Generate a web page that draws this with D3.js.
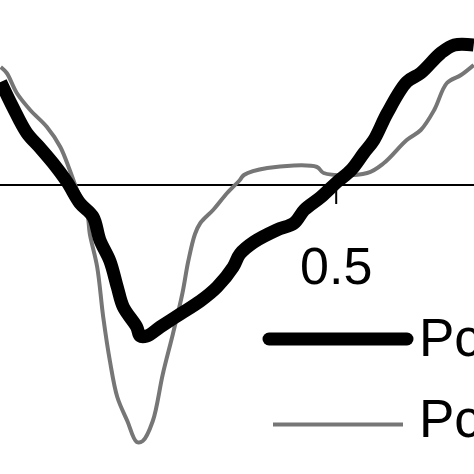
<!DOCTYPE html>
<html>
<head>
<meta charset="utf-8">
<script src="https://cdn.jsdelivr.net/npm/d3@7"></script>
<style>
html,body{margin:0;padding:0;background:#fff;overflow:hidden;}
</style>
</head>
<body>
<div id="chart"></div>
<script>
// thick black series
let blackX=[0.000,0.018,0.039,0.059,0.078,0.099,0.118,0.138,0.148,0.163,0.174,0.183,0.203,0.208,0.218,0.238,0.268,0.298,0.323,0.347,0.357,0.378,0.412,0.438,0.453,0.478,0.502,0.523,0.542,0.557,0.577,0.606,0.627,0.657,0.677,0.706];
let blackY=[1.03,0.78,0.52,0.37,0.22,0.03,-0.18,-0.32,-0.55,-0.76,-1.02,-1.22,-1.42,-1.51,-1.51,-1.42,-1.29,-1.16,-1.02,-0.82,-0.69,-0.57,-0.45,-0.38,-0.25,-0.12,0.03,0.15,0.32,0.45,0.72,1.03,1.12,1.32,1.40,1.40];
// thin gray series
let grayX=[0.000,0.009,0.024,0.044,0.069,0.089,0.103,0.114,0.129,0.133,0.144,0.153,0.163,0.174,0.189,0.203,0.212,0.227,0.242,0.257,0.271,0.280,0.290,0.298,0.317,0.338,0.357,0.363,0.398,0.472,0.482,0.547,0.572,0.606,0.627,0.647,0.666,0.687,0.706];
let grayY=[1.18,1.12,0.92,0.75,0.58,0.38,0.15,-0.05,-0.28,-0.49,-0.82,-1.32,-1.76,-2.12,-2.36,-2.57,-2.56,-2.36,-1.89,-1.49,-1.09,-0.76,-0.49,-0.38,-0.25,-0.08,0.05,0.10,0.17,0.18,0.12,0.12,0.22,0.45,0.55,0.75,1.02,1.10,1.20];
let xTicks=[0.5];
let tickLabels=["0.5"];
let legendNames=["Pc","Pc"];

let width=474, height=474;
let svg=d3.select("#chart").append("svg")
  .attr("width",width).attr("height",height);

let xscale=d3.scaleLinear().domain([0,0.7]).range([0.7,469.7]);
let yscale=d3.scaleLinear().domain([0,1]).range([185,85]);

// x axis through y=0
let xAxis=d3.axisBottom(xscale).tickValues(xTicks).tickSize(19).tickFormat(function(d,i){return tickLabels[i];});
let ax=svg.append("g").attr("transform","translate(0,"+yscale(0)+")").call(xAxis);
ax.select(".domain").remove();
ax.append("line").attr("x1",0).attr("x2",width).attr("y1",0).attr("y2",0)
  .attr("stroke","#000").attr("stroke-width",2);
ax.selectAll(".tick line").attr("stroke","#000").attr("stroke-width",2);
ax.selectAll(".tick text")
  .attr("font-family","Liberation Sans, Arial, sans-serif")
  .attr("font-size",52).attr("fill","#000")
  .attr("dy",0).attr("y",99);

let line=d3.line()
  .curve(d3.curveCatmullRom.alpha(0.5))
  .x(function(d){return xscale(d[0]);}).y(function(d){return yscale(d[1]);});

svg.append("path").datum(d3.zip(grayX,grayY))
  .attr("d",line).attr("fill","none")
  .attr("stroke","#767676").attr("stroke-width",4).attr("stroke-linejoin","round");

svg.append("path").datum(d3.zip(blackX,blackY))
  .attr("d",line).attr("fill","none")
  .attr("stroke","#000").attr("stroke-width",13).attr("stroke-linejoin","round");

// legend
let leg=svg.append("g");
leg.append("line").attr("x1",269).attr("x2",407).attr("y1",339).attr("y2",339)
  .attr("stroke","#000").attr("stroke-width",13).attr("stroke-linecap","round");
leg.append("line").attr("x1",273).attr("x2",403).attr("y1",424.5).attr("y2",424.5)
  .attr("stroke","#767676").attr("stroke-width",4);
leg.selectAll("text").data(legendNames).enter().append("text")
  .attr("x",419).attr("y",function(d,i){return i===0?356:437;})
  .attr("font-family","Liberation Sans, Arial, sans-serif")
  .attr("font-size",53).attr("fill","#000")
  .text(function(d){return d;});
</script>
</body>
</html>
